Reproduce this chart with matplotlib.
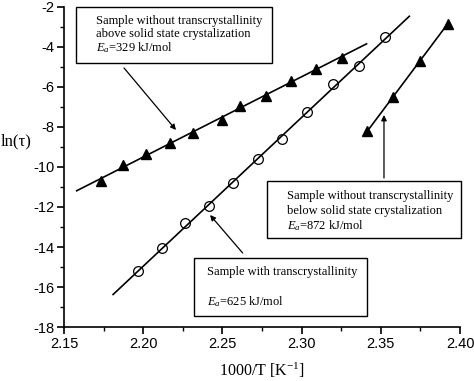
import numpy as np
import matplotlib
matplotlib.use("Agg")
import matplotlib.pyplot as plt
from matplotlib.ticker import MultipleLocator
from matplotlib.patches import Rectangle

plt.rcParams['mathtext.fontset'] = 'custom'
plt.rcParams['mathtext.rm'] = 'Liberation Serif'
plt.rcParams['mathtext.it'] = 'Liberation Serif:italic'

# Series: sample without transcrystallinity, above solid state crystallization
x_above = [2.1734, 2.1875, 2.2018, 2.2169, 2.2312, 2.2495, 2.2611, 2.2773, 2.2931, 2.3091, 2.3253]
y_above = [-10.70, -9.90, -9.35, -8.78, -8.32, -7.65, -6.95, -6.45, -5.68, -5.10, -4.53]
fit_above_range = [2.158, 2.341]

# Series: sample with transcrystallinity
x_trans = [2.1969, 2.2119, 2.2266, 2.2415, 2.2569, 2.2727, 2.2878, 2.3036, 2.3200, 2.3362, 2.3526]
y_trans = [-15.20, -14.03, -12.82, -11.95, -10.78, -9.62, -8.62, -7.23, -5.87, -4.93, -3.52]
fit_trans_range = [2.181, 2.368]

# Series: sample without transcrystallinity, below solid state crystallization
x_below = [2.3415, 2.3580, 2.3747, 2.3922]
y_below = [-8.20, -6.48, -4.68, -2.85]
fit_below_range = [2.3405, 2.3925]

xticks = [2.15, 2.20, 2.25, 2.30, 2.35, 2.40]
yticks = [-18, -16, -14, -12, -10, -8, -6, -4, -2]

box1_lines = ["Sample without transcrystallinity", "above solid state crystalization", "$E_a$=329 kJ/mol"]
box2_lines = ["Sample without transcrystallinity", "below solid state crystalization", "$E_a$=872 kJ/mol"]
box3_lines = ["Sample with transcrystallinity", "$E_a$=625 kJ/mol"]

fig = plt.figure(figsize=(4.74, 3.81), dpi=100)
ax = fig.add_axes([0.135, 0.1417, 0.8355, 0.84])

def fitline(xs, ys, rng):
    p = np.polyfit(xs, ys, 1)
    xr = np.array(rng)
    return xr, np.polyval(p, xr)

for xs, ys, rng in [(x_above, y_above, fit_above_range),
                    (x_trans, y_trans, fit_trans_range),
                    (x_below, y_below, fit_below_range)]:
    xr, yr = fitline(xs, ys, rng)
    ax.plot(xr, yr, color='black', lw=1.2, zorder=2)

ax.plot(x_above, y_above, ls='none', marker='^', ms=7, color='black', zorder=3)
ax.plot(x_below, y_below, ls='none', marker='^', ms=7, color='black', zorder=3)
ax.plot(x_trans, y_trans, ls='none', marker='o', ms=7, mfc='none', mec='black', mew=0.9, zorder=3)

ax.set_xlim(2.15, 2.40)
ax.set_ylim(-18, -2)
ax.set_xticks(xticks)
ax.set_xticklabels([f"{v:.2f}" for v in xticks])
ax.set_yticks(yticks)
ax.set_yticklabels([str(v) for v in yticks])
ax.xaxis.set_minor_locator(MultipleLocator(0.025))
ax.yaxis.set_minor_locator(MultipleLocator(1))
for lab in ax.get_xticklabels() + ax.get_yticklabels():
    lab.set_fontfamily('Liberation Sans')
    lab.set_fontsize(10.5)
ax.tick_params(which='major', direction='out', length=5, width=1.2, pad=2)
ax.tick_params(which='minor', direction='out', length=3, width=1.0)
ax.spines['top'].set_visible(False)
ax.spines['right'].set_visible(False)
ax.spines['left'].set_linewidth(1.2)
ax.spines['bottom'].set_linewidth(1.2)

ax.set_xlabel("1000/T [K$^{-1}$]", family='Liberation Serif', fontsize=11.5, labelpad=7)
ax.set_ylabel("ln(τ)", family='Liberation Serif', fontsize=12, rotation=0, va='center', ha='center')
ax.yaxis.set_label_coords(-0.122, 0.58)

tfont = dict(family='Liberation Serif', fontsize=9, va='baseline', ha='left', zorder=6)
aprops = dict(arrowstyle='-|>', color='black', lw=0.9, mutation_scale=8, shrinkA=0, shrinkB=0)

def box(x0, x1, y0, y1):
    ax.add_patch(Rectangle((x0, y0), x1 - x0, y1 - y0, fc='white', ec='black', lw=1.0,
                           zorder=5, clip_on=False))

# Box 1
box(2.1576, 2.2813, -4.8, -2.0)
for s, yb in zip(box1_lines, [-2.85, -3.515, -4.235]):
    ax.text(2.1702, yb, s, **tfont)
ax.annotate("", xy=(2.2207, -8.15), xytext=(2.1879, -5.05), arrowprops=aprops)

# Box 2
box(2.2780, 2.4006, -13.57, -10.7)
for s, yb in zip(box2_lines, [-11.615, -12.35, -13.1]):
    ax.text(2.2906, yb, s, **tfont)
ax.annotate("", xy=(2.352, -7.4), xytext=(2.352, -10.55), arrowprops=aprops)

# Box 3
box(2.2321, 2.3411, -17.44, -14.57)
for s, yb in zip(box3_lines, [-15.4, -16.9]):
    ax.text(2.2401, yb, s, **tfont)
ax.annotate("", xy=(2.2422, -12.4), xytext=(2.2628, -14.3), arrowprops=aprops)

fig.savefig("out.png", dpi=100)
